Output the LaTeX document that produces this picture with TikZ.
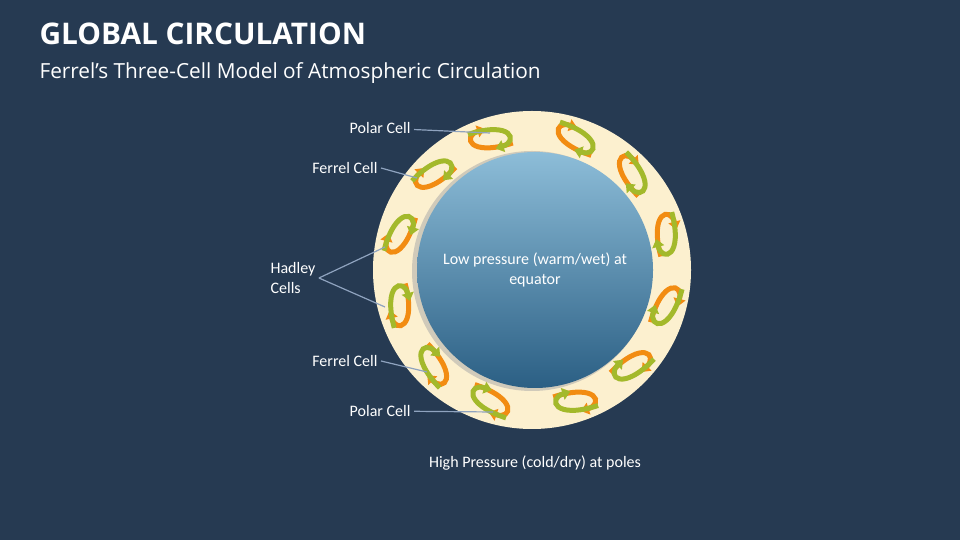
\documentclass[tikz,border=0pt]{standalone}
\usepackage{fontspec}
\setmainfont{Carlito}
\newfontfamily\headfont{Open Sans}
\usetikzlibrary{arrows.meta,positioning,calc}
\definecolor{bgblue}{HTML}{263A52}
\definecolor{ringfill}{HTML}{FCF0CF}
\definecolor{cellorange}{HTML}{F28C12}
\definecolor{cellgreen}{HTML}{A3B92B}
\definecolor{seatop}{HTML}{8DBDD8}
\definecolor{seabot}{HTML}{2B5F84}
\definecolor{leader}{HTML}{8FA3BF}
\tikzset{
  flow/.style={line width=5pt,-{Triangle[width=12pt,length=8pt]}},
  caption/.style={text=white,font=\fontsize{16}{20}\selectfont,align=center},
  pointer/.style={leader,line width=1.2pt},
  cellpair/.pic={
    \draw[flow,cellorange] (-20,11) .. controls (26,11) and (26,-11) .. (2,-11);
    \draw[flow,cellgreen] (20,-11) .. controls (-26,-11) and (-26,11) .. (-2,11);
  }
}
\begin{document}
\begin{tikzpicture}[x=1pt,y=1pt]
  \fill[bgblue] (0,0) rectangle (960,540);
  \useasboundingbox (0,0) rectangle (960,540);
  % title
  \node[anchor=west,text=white,font=\headfont\bfseries\fontsize{29.8}{33}\selectfont] (title) at (36,506) {GLOBAL CIRCULATION};
  \node[anchor=west,text=white,font=\headfont\fontsize{20.8}{24}\selectfont] (subtitle) at (36,467) {Ferrel’s Three-Cell Model of Atmospheric Circulation};
  % globe
  \fill[ringfill] (532,270) circle (159);
  \fill[black!35,opacity=0.5] (532,269) circle (120);
  \shade[top color=seatop,bottom color=seabot] (535,270) circle (118);
  \node[caption] (equator) at (535,270) {Low pressure (warm/wet) at\\equator};
  % cells
  \foreach \ang in {15,44,72,108,136,165,195,224,252,288,316,345}
    \pic[rotate=\ang+90] at ($(533,270)+(\ang:138)$) {cellpair};
  % labels
  \node[caption,anchor=east] (polarN) at (414,412) {Polar Cell};
  \node[caption,anchor=east] (ferrelN) at (381,372) {Ferrel Cell};
  \node[caption,align=left] (hadley) at (293,262) {Hadley\\Cells};
  \node[caption,anchor=east] (ferrelS) at (381,179) {Ferrel Cell};
  \node[caption,anchor=east] (polarS) at (414,129) {Polar Cell};
  \node[caption] (poles) at (535,77) {High Pressure (cold/dry) at poles};
  \coordinate (pN) at (490,407);
  \coordinate (fN) at (417,362);
  \coordinate (h1) at (385,293);
  \coordinate (h2) at (385,233);
  \coordinate (fS) at (427,168);
  \coordinate (pS) at (493,128);
  \draw[pointer] (polarN) -- (pN);
  \draw[pointer] (ferrelN.east) -- (fN);
  \draw[pointer] (hadley.east) -- (h1);
  \draw[pointer] (hadley.east) -- (h2);
  \draw[pointer] (ferrelS.east) -- (fS);
  \draw[pointer] (polarS) -- (pS);
\end{tikzpicture}
\end{document}
